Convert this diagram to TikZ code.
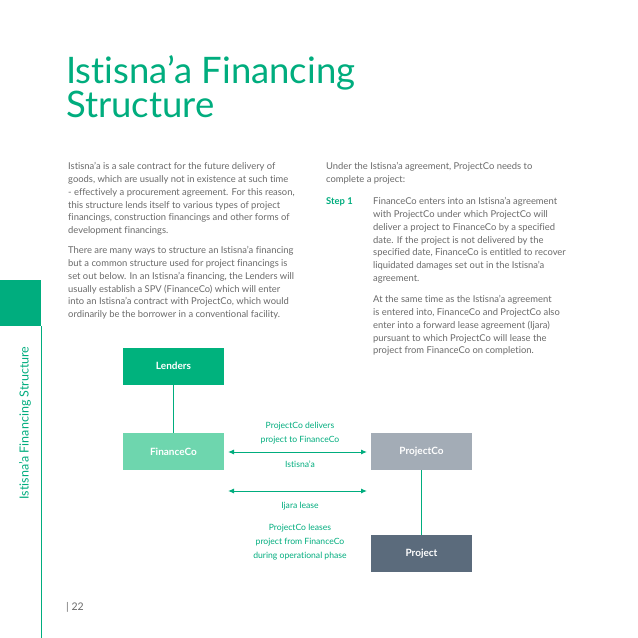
\documentclass[tikz,border=0pt]{standalone}
\usepackage{fontspec}
\usetikzlibrary{arrows.meta}
\setmainfont{Lato}[Ligatures={NoCommon,NoRare}]
\definecolor{grn}{HTML}{00AD7E}
\definecolor{lend}{HTML}{00B27D}
\definecolor{fin}{HTML}{6ED6AE}
\definecolor{pco}{HTML}{A3ACB6}
\definecolor{prj}{HTML}{5B6B7C}
\definecolor{body}{HTML}{6A6A6A}
\begin{document}
\begin{tikzpicture}[x=1pt,y=-1pt,
  box/.style={minimum width=101pt,minimum height=37pt,inner sep=0pt,text=white,font=\fontsize{10}{11}\selectfont\bfseries},
  para/.style={anchor=north west,inner sep=0pt,align=left,text=body,font=\fontsize{9.4}{12.9}\selectfont},
  lbl/.style={inner sep=0pt,align=center,text=grn,font=\fontsize{8.6}{14.2}\selectfont},
  conn/.style={grn,line width=1pt},
  arr/.style={grn,line width=1pt,{Latex[length=6pt,width=5pt]}-{Latex[length=6pt,width=5pt]}}]
\useasboundingbox (0,0) rectangle (638,638);
\fill[white] (0,0) rectangle (638,638);
% sidebar
\fill[grn] (0,280) rectangle (41,326);
\draw[grn,line width=1pt] (41,326) -- (41,638);
\node[rotate=90,text=grn,inner sep=0pt,font=\fontsize{12.5}{14}\selectfont] (side) at (25,423) {Istisna'a Financing Structure};
% title
\node[anchor=north west,inner sep=0pt,align=left,text=grn,font=\fontsize{36.5}{33}\selectfont] (title) at (66,55) {Istisna'a Financing\\Structure};
% body
\node[para] (p1) at (68,162) {Istisna'a is a sale contract for the future delivery of\\goods, which are usually not in existence at such time\\- effectively a procurement agreement. For this reason,\\this structure lends itself to various types of project\\financings, construction financings and other forms of\\development financings.};
\node[para] (p2) at (68,246) {There are many ways to structure an Istisna'a financing\\but a common structure used for project financings is\\set out below. In an Istisna'a financing, the Lenders will\\usually establish a SPV (FinanceCo) which will enter\\into an Istisna'a contract with ProjectCo, which would\\ordinarily be the borrower in a conventional facility.};
\node[para] (p3) at (326,162) {Under the Istisna'a agreement, ProjectCo needs to\\complete a project:};
\node[para,text=grn,font=\fontsize{9.4}{12.9}\selectfont\bfseries] (st) at (326,197) {Step 1};
\node[para] (p4) at (373,197) {FinanceCo enters into an Istisna'a agreement\\with ProjectCo under which ProjectCo will\\deliver a project to FinanceCo by a specified\\date. If the project is not delivered by the\\specified date, FinanceCo is entitled to recover\\liquidated damages set out in the Istisna'a\\agreement.};
\node[para] (p5) at (373,295) {At the same time as the Istisna'a agreement\\is entered into, FinanceCo and ProjectCo also\\enter into a forward lease agreement (Ijara)\\pursuant to which ProjectCo will lease the\\project from FinanceCo on completion.};
% diagram
\node[box,fill=lend] (L) at (173.5,366) {Lenders};
\node[box,fill=fin] (F) at (173.5,451.5) {FinanceCo};
\node[box,fill=pco] (P) at (421.5,451.5) {ProjectCo};
\node[box,fill=prj] (J) at (421.5,553.5) {Project};
\draw[conn] (L) -- (F);
\draw[conn] (P) -- (J);
\coordinate (a1) at (228,452); \coordinate (a2) at (367,452);
\coordinate (b1) at (228,491); \coordinate (b2) at (367,491);
\draw[arr] (a1) -- (a2);
\draw[arr] (b1) -- (b2);
\node[lbl] (l1) at (300,433) {ProjectCo delivers\\project to FinanceCo};
\node[lbl] (l2) at (300,464) {Istisna'a};
\node[lbl] (l3) at (300,506) {Ijara lease};
\node[lbl] (l4) at (300,542) {ProjectCo leases\\project from FinanceCo\\during operational phase};
\node[anchor=west,inner sep=0pt,text=body,font=\fontsize{10.5}{12}\selectfont] (pg) at (66,607) {| 22};
\end{tikzpicture}
\end{document}
